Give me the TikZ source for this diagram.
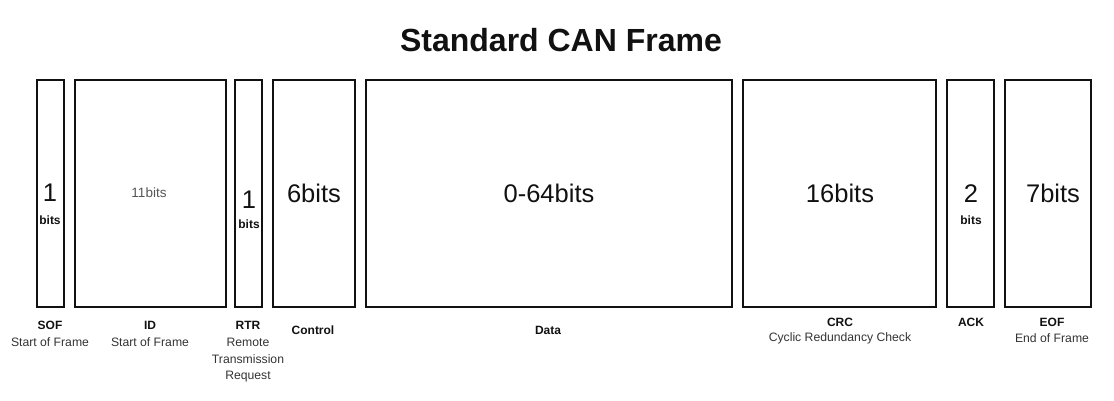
\documentclass[tikz,border=0pt]{standalone}
\usepackage{fontspec}
\setmainfont{Liberation Sans}
\usetikzlibrary{positioning}

\definecolor{ink}{HTML}{111111}
\definecolor{subink}{HTML}{333333}
\definecolor{softink}{HTML}{555555}

\tikzset{
  field/.style={draw=ink, line width=2.2pt, minimum height=227pt, inner sep=0pt},
  bignum/.style={text=ink, font=\fontsize{25.5}{28}\selectfont, inner sep=0pt},
  smallbits/.style={text=ink, font=\bfseries\fontsize{12}{14}\selectfont, inner sep=0pt},
  fieldname/.style={text=ink, font=\bfseries\fontsize{12}{14}\selectfont, inner sep=0pt},
  fieldsub/.style={text=subink, font=\fontsize{12.2}{16.5}\selectfont, inner sep=0pt, align=center}
}

\begin{document}
\begin{tikzpicture}[x=1pt,y=-1pt]
\useasboundingbox (0,0) rectangle (1114,400);

\node (title) at (561,40) [text=ink, font=\bfseries\fontsize{32}{36}\selectfont] {Standard CAN Frame};

% frame fields
\node [field, minimum width=27pt] (sof) at (50.5,193.5) {};
\node [field, minimum width=151pt] (id) at (150.5,193.5) {};
\node [field, minimum width=27pt] (rtr) at (248.5,193.5) {};
\node [field, minimum width=82pt] (ctrl) at (314,193.5) {};
\node [field, minimum width=366pt] (data) at (549,193.5) {};
\node [field, minimum width=193pt] (crc) at (839.5,193.5) {};
\node [field, minimum width=47pt] (ack) at (970.5,193.5) {};
\node [field, minimum width=86pt] (eof) at (1048,193.5) {};

% bit counts
\node [bignum] (sofn) at (50,193) {1};
\node [smallbits] (sofb) at (50,220) {bits};
\node [text=softink, font=\fontsize{13.5}{15}\selectfont, inner sep=0pt] (idn) at (149,193) {11bits};
\node [bignum] (rtrn) at (249,200) {1};
\node [smallbits] (rtrb) at (249,224) {bits};
\node [bignum] (ctrln) at (314,193) {6bits};
\node [bignum] (datan) at (549,193) {0-64bits};
\node [bignum] (crcn) at (840,193) {16bits};
\node [bignum] (ackn) at (971,194) {2};
\node [smallbits] (ackb) at (971,220) {bits};
\node [bignum] (eofn) at (1053,193) {7bits};

% names below
\node [fieldname] (sofl) at (50,325) {SOF};
\node [fieldsub] (sofs) at (50,342) {Start of Frame};
\node [fieldname] (idl) at (150,325) {ID};
\node [fieldsub] (ids) at (150,342) {Start of Frame};
\node [fieldname] (rtrl) at (248,325) {RTR};
\node [fieldsub] (rtrs) at (248,360.5) {Remote\\Transmission\\Request};
\node [fieldname] (ctrll) at (313,330) {Control};
\node [fieldname] (datal) at (548,330) {Data};
\node [fieldname] (crcl) at (840,322) {CRC};
\node [fieldsub] (crcs) at (840,338) {Cyclic Redundancy Check};
\node [fieldname] (ackl) at (971,322) {ACK};
\node [fieldname] (eofl) at (1052,322) {EOF};
\node [fieldsub] (eofs) at (1052,338) {End of Frame};
\end{tikzpicture}
\end{document}
